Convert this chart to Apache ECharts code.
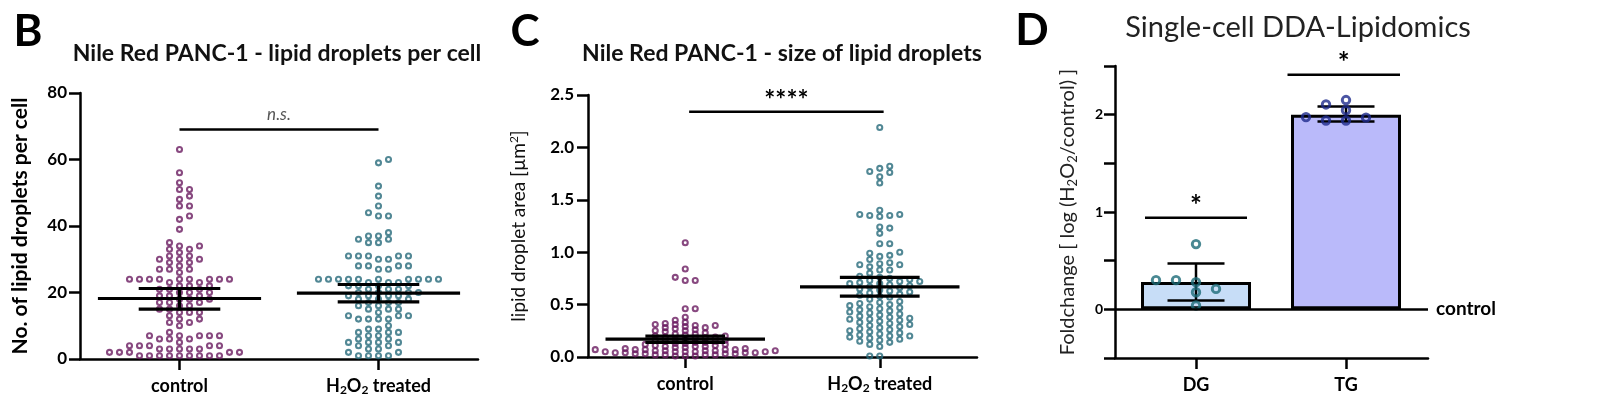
<!DOCTYPE html>
<html>
<head>
<meta charset="utf-8">
<title>Nile Red PANC-1 / Single-cell DDA-Lipidomics</title>
<script src="https://cdn.jsdelivr.net/npm/echarts@6/dist/echarts.min.js"></script>
<style>
  html, body { margin: 0; padding: 0; background: #fff; }
  #main { width: 1601px; height: 399px; }
</style>
</head>
<body>
<div id="main"></div>
<script>
// B - lipid droplets per cell (counts, one value per cell)
var catsB = ['control', 'H2O2 treated'];
var ctrlB = [63, 56, 53, 51, 51, 49, 48, 46, 46, 43, 42, 39,
  35, 34, 33, 32, 31, 30, 29, 34, 33, 31, 30, 30, 29, 28, 27, 26, 27, 27,
  24, 24, 24, 24, 24, 24, 24, 24, 24,
  23, 23, 22, 22, 22, 21, 21, 21, 20, 20, 20, 19, 19, 19, 18, 18, 18, 17, 17, 17,
  16, 16, 15, 15, 14, 14, 14, 13, 12, 12, 11, 11, 10,
  8, 7, 7, 7, 7, 7, 6, 6, 6, 5,
  4, 4, 4, 4, 4, 3, 3, 3, 3, 3, 2, 2, 2, 2, 2, 1, 1, 1, 1, 1, 1, 1, 1, 1];
var h2o2B = [60, 59, 52, 49, 46, 44, 43, 43, 38, 37, 37, 36, 36, 35, 35,
  31, 31, 31, 31, 31, 30, 30, 28, 28, 28, 28, 27, 27,
  24, 24, 24, 24, 24, 24, 24, 24, 24, 24,
  23, 23, 23, 22, 22, 22, 22, 21, 21, 21, 20, 20, 20, 20, 19, 19, 19, 19,
  18, 18, 18, 17, 17, 17, 16, 16, 15, 15, 15, 14,
  13, 13, 13, 12, 12, 12, 12,
  10, 9, 9, 8, 8, 8, 7, 7, 6, 6, 5, 5, 5, 5,
  4, 4, 3, 3, 2, 2, 1, 1, 1, 1];
var meanB = [18.2, 19.8];
var semLoB = [15.0, 17.2];
var semHiB = [21.2, 22.4];

// C - size of lipid droplets (µm²)
var catsC = ['control', 'H2O2 treated'];
var ctrlC = [1.09, 0.84, 0.76, 0.73, 0.73, 0.46, 0.46, 0.38, 0.35,
  0.33, 0.32, 0.31, 0.31, 0.30, 0.30, 0.29, 0.28, 0.28, 0.27, 0.26, 0.25, 0.25,
  0.24, 0.23, 0.22, 0.22, 0.21, 0.20, 0.20, 0.19, 0.19, 0.18, 0.18, 0.17, 0.17, 0.16, 0.16, 0.15, 0.15,
  0.14, 0.14, 0.13, 0.13, 0.12, 0.12, 0.11, 0.11, 0.10, 0.10, 0.10, 0.09, 0.09, 0.08, 0.08,
  0.07, 0.07, 0.07, 0.07, 0.07, 0.06, 0.06, 0.06, 0.06, 0.06, 0.05, 0.05, 0.05, 0.05, 0.05,
  0.04, 0.04, 0.04, 0.04, 0.03, 0.03, 0.03, 0.03, 0.02, 0.02, 0.02, 0.02, 0.01, 0.01, 0.01];
var h2o2C = [2.19, 1.82, 1.80, 1.77, 1.76, 1.72, 1.66, 1.40, 1.36, 1.36, 1.35, 1.35, 1.34,
  1.24, 1.23, 1.18, 1.08, 1.08, 1.00, 0.99, 0.97, 0.96, 0.93, 0.90, 0.89, 0.88, 0.88, 0.86, 0.83, 0.83, 0.80,
  0.77, 0.76, 0.75, 0.74, 0.73, 0.72, 0.72, 0.71, 0.70, 0.70, 0.69, 0.68, 0.67, 0.66, 0.65, 0.64,
  0.63, 0.62, 0.61, 0.60, 0.59, 0.58, 0.57,
  0.55, 0.53, 0.52, 0.51, 0.50, 0.49, 0.48, 0.47, 0.46, 0.45, 0.44, 0.43, 0.42, 0.41, 0.40, 0.39,
  0.38, 0.37, 0.36, 0.36, 0.35, 0.34, 0.33, 0.32, 0.31, 0.30, 0.29, 0.28, 0.27, 0.26, 0.25, 0.24,
  0.23, 0.22, 0.21, 0.20, 0.20, 0.19, 0.18, 0.17, 0.16, 0.15, 0.14, 0.12, 0.10,
  0.01, 0.01];
var meanC = [0.17, 0.67];
var semLoC = [0.14, 0.58];
var semHiC = [0.20, 0.76];

// D - single-cell DDA lipidomics, log fold change vs control
var catsD = ['DG', 'TG'];
var barsD = [0.28, 2.0];
var errLoD = [0.09, 1.93];
var errHiD = [0.47, 2.085];
var dgPoints = [0.67, 0.30, 0.21, 0.30, 0.175, 0.28, 0.04];
var tgPoints = [2.045, 1.94, 1.97, 2.105, 1.94, 2.15, 1.975];

// significance bars: [x from, x to, y] + text
var sigB = [[0, 1, 69]];
var sigTextB = ['n.s.'];
var sigC = [[0.02, 1.02, 2.34]];
var sigTextC = ['****'];
var sigD = [[-0.34, 0.34, 0.94], [0.61, 1.36, 2.41]];
var sigTextD = ['*', '*'];

var FONT = 'Lato, "DejaVu Sans", sans-serif';
var PURPLE = '#6a1c60';
var TEAL = '#276a7a';

var gB = { left: 80, top: 93, width: 398, height: 266 };
var gC = { left: 588, top: 95, width: 389, height: 262 };
var gD = { left: 1115, top: 66, width: 313, height: 292 };

// H2O2 -> rich text with subscripts
function sub(s) {
  return s.replace(/([A-Za-z])(\d)/g, '$1{s|$2}');
}

// beeswarm on a column grid, same idea as a prism scatter dot plot
function swarm(vals, center, pxY, pxX, step, minDy) {
  var order = vals.map(function (v, i) { return i; })
    .sort(function (a, b) { return vals[a] - vals[b]; });
  var cols = {};
  var out = [];
  order.forEach(function (i, n) {
    var y = vals[i] * pxY;
    var side = n % 2 === 0 ? 1 : -1;
    for (var k = 0; k < 400; k++) {
      var c = k === 0 ? 0 : Math.ceil(k / 2) * (k % 2 === 1 ? side : -side);
      if (!cols[c]) cols[c] = [];
      var ok = cols[c].every(function (py) { return Math.abs(py - y) >= minDy; });
      if (ok) {
        cols[c].push(y);
        out.push([center + c * step / pxX, vals[i]]);
        break;
      }
    }
  });
  return out;
}

var pxYB = gB.height / 80, pxXB = gB.width / 2;
var pxYC = gC.height / 2.5, pxXC = gC.width / 2;
var pxYD = gD.height / 3, pxXD = 150;

function line(a, b, w) {
  return { type: 'line', shape: { x1: a[0], y1: a[1], x2: b[0], y2: b[1] },
    style: { stroke: '#000', lineWidth: w } };
}

function meanSemItem(params, api) {
  var x = api.value(0), m = api.value(1), lo = api.value(2), hi = api.value(3);
  return {
    type: 'group',
    children: [
      line(api.coord([x - 0.41, m]), api.coord([x + 0.41, m]), 3.2),
      line(api.coord([x - 0.205, lo]), api.coord([x + 0.205, lo]), 3.2),
      line(api.coord([x - 0.205, hi]), api.coord([x + 0.205, hi]), 3.2),
      line(api.coord([x, lo]), api.coord([x, hi]), 3.2)
    ]
  };
}

function errItem(params, api) {
  var x = api.value(0), lo = api.value(1), hi = api.value(2);
  return {
    type: 'group',
    children: [
      line(api.coord([x, lo]), api.coord([x, hi]), 2.5),
      line(api.coord([x - 0.19, lo]), api.coord([x + 0.19, lo]), 2.5),
      line(api.coord([x - 0.19, hi]), api.coord([x + 0.19, hi]), 2.5)
    ]
  };
}

function sigRenderer(texts, font, gap, color) {
  return function (params, api) {
    var p1 = api.coord([api.value(0), api.value(2)]);
    var p2 = api.coord([api.value(1), api.value(2)]);
    return {
      type: 'group',
      children: [
        line(p1, p2, 2.5),
        {
          type: 'text', x: (p1[0] + p2[0]) / 2, y: p1[1] - gap,
          style: {
            text: texts[params.dataIndex], fill: color, font: font,
            align: 'center', verticalAlign: 'middle'
          }
        }
      ]
    };
  };
}

var axisLineStyle = { color: '#000', width: 2.5 };
var richX = {
  s: { fontSize: 12, fontWeight: 'bold', fontFamily: FONT, color: '#000', lineHeight: 12, verticalAlign: 'bottom' }
};

function xAxisFor(gi, cats, min, max) {
  return {
    gridIndex: gi, type: 'value', min: min, max: max,
    splitLine: { show: false },
    axisLine: { show: true, onZero: false, lineStyle: axisLineStyle },
    axisTick: { show: true, customValues: [0, 1], length: 11, lineStyle: axisLineStyle },
    axisLabel: {
      customValues: [0, 1], margin: 17,
      fontSize: 18, fontWeight: 'bold', fontFamily: FONT, color: '#000', lineHeight: 20,
      formatter: function (v) { return sub(cats[Math.round(v)]); },
      rich: richX
    }
  };
}

function yAxisFor(gi, min, max, interval, labelFmt, name, nameStyle, nameGap, fontSize, margin) {
  return {
    gridIndex: gi, type: 'value', min: min, max: max, interval: interval,
    splitLine: { show: false },
    axisLine: { show: true, onZero: false, lineStyle: axisLineStyle },
    axisTick: { show: true, length: 11, lineStyle: axisLineStyle },
    axisLabel: { fontSize: fontSize, fontWeight: 'bold', fontFamily: FONT, color: '#000',
      margin: margin, formatter: labelFmt },
    name: name, nameLocation: 'middle', nameRotate: 90, nameGap: nameGap,
    nameTextStyle: nameStyle
  };
}

var chart = echarts.init(document.getElementById('main'));

chart.setOption({
  animation: false,
  backgroundColor: '#fff',
  grid: [
    { left: gB.left, top: gB.top, width: gB.width, height: gB.height },
    { left: gC.left, top: gC.top, width: gC.width, height: gC.height },
    { left: gD.left, top: gD.top, width: gD.width, height: gD.height }
  ],
  xAxis: [
    xAxisFor(0, catsB, -0.5, 1.5),
    xAxisFor(1, catsC, -0.5, 1.5),
    xAxisFor(2, catsD, -(gD.width * 0.2588) / pxXD, (gD.width * 0.7412) / pxXD)
  ],
  yAxis: [
    yAxisFor(0, 0, 80, 20, null, 'No. of lipid droplets per cell',
      { fontSize: 21, fontWeight: 'bold', fontFamily: FONT, color: '#000' }, 49, 17, 13),
    yAxisFor(1, 0, 2.5, 0.5, function (v) { return v.toFixed(1); },
      'lipid droplet area [µm{p|2}]',
      { fontSize: 19, fontFamily: FONT, color: '#111', lineHeight: 22,
        rich: { p: { fontSize: 12, fontFamily: FONT, color: '#111', lineHeight: 12, verticalAlign: 'top' } } },
      58, 17, 14),
    yAxisFor(2, -0.5, 2.5, 0.5, function (v) { return Number.isInteger(v) ? String(v) : ''; },
      sub('Foldchange [ log (H2O2/control) ]'),
      { fontSize: 20, fontFamily: FONT, color: '#222', lineHeight: 22,
        rich: { s: { fontSize: 13, fontFamily: FONT, color: '#222', lineHeight: 13, verticalAlign: 'bottom' } } },
      36, 14, 12)
  ],
  graphic: [
    { type: 'text', x: 28, y: 32, style: { text: 'B', font: 'bold 44px ' + FONT, fill: '#000', align: 'center', verticalAlign: 'middle' } },
    { type: 'text', x: 525, y: 32, style: { text: 'C', font: 'bold 44px ' + FONT, fill: '#000', align: 'center', verticalAlign: 'middle' } },
    { type: 'text', x: 1032, y: 31, style: { text: 'D', font: 'bold 44px ' + FONT, fill: '#000', align: 'center', verticalAlign: 'middle' } },
    { type: 'text', x: 277, y: 54, style: { text: 'Nile Red PANC-1 - lipid droplets per cell', font: 'bold 23px ' + FONT, fill: '#111', align: 'center', verticalAlign: 'middle' } },
    { type: 'text', x: 782, y: 54, style: { text: 'Nile Red PANC-1 - size of lipid droplets', font: 'bold 23px ' + FONT, fill: '#111', align: 'center', verticalAlign: 'middle' } },
    { type: 'text', x: 1298, y: 28, style: { text: 'Single-cell DDA-Lipidomics', font: '29px ' + FONT, fill: '#222', align: 'center', verticalAlign: 'middle' } }
  ],
  series: [
    // B
    { type: 'scatter', xAxisIndex: 0, yAxisIndex: 0, z: 2, symbol: 'circle', symbolSize: 5,
      itemStyle: { color: 'rgba(0,0,0,0)', borderColor: PURPLE, borderWidth: 2.1 },
      data: swarm(ctrlB, 0, pxYB, pxXB, 10, 5) },
    { type: 'scatter', xAxisIndex: 0, yAxisIndex: 0, z: 2, symbol: 'circle', symbolSize: 5,
      itemStyle: { color: 'rgba(0,0,0,0)', borderColor: TEAL, borderWidth: 2.1 },
      data: swarm(h2o2B, 1, pxYB, pxXB, 10, 5) },
    { type: 'custom', xAxisIndex: 0, yAxisIndex: 0, z: 3, renderItem: meanSemItem,
      encode: { x: 0, y: [1, 2, 3] },
      data: meanB.map(function (m, i) { return [i, m, semLoB[i], semHiB[i]]; }) },
    { type: 'custom', xAxisIndex: 0, yAxisIndex: 0, z: 3,
      renderItem: sigRenderer(sigTextB, 'italic 17px ' + FONT, 15, '#555'),
      encode: { x: [0, 1], y: 2 }, data: sigB },
    // C
    { type: 'scatter', xAxisIndex: 1, yAxisIndex: 1, z: 2, symbol: 'circle', symbolSize: 5,
      itemStyle: { color: 'rgba(0,0,0,0)', borderColor: PURPLE, borderWidth: 2.1 },
      data: swarm(ctrlC, 0, pxYC, pxXC, 10, 4) },
    { type: 'scatter', xAxisIndex: 1, yAxisIndex: 1, z: 2, symbol: 'circle', symbolSize: 5,
      itemStyle: { color: 'rgba(0,0,0,0)', borderColor: TEAL, borderWidth: 2.1 },
      data: swarm(h2o2C, 1, pxYC, pxXC, 10, 5.5) },
    { type: 'custom', xAxisIndex: 1, yAxisIndex: 1, z: 3, renderItem: meanSemItem,
      encode: { x: 0, y: [1, 2, 3] },
      data: meanC.map(function (m, i) { return [i, m, semLoC[i], semHiC[i]]; }) },
    { type: 'custom', xAxisIndex: 1, yAxisIndex: 1, z: 3,
      renderItem: sigRenderer(sigTextC, 'bold 26px ' + FONT, 11, '#000'),
      encode: { x: [0, 1], y: 2 }, data: sigC },
    // D
    { type: 'bar', xAxisIndex: 2, yAxisIndex: 2, z: 2, barWidth: 110,
      data: barsD.map(function (v, i) {
        return { value: [i, v], itemStyle: { color: i === 0 ? '#c7ddf7' : '#babafa', borderColor: '#000', borderWidth: 3 } };
      }),
      markLine: {
        silent: true, symbol: 'none',
        lineStyle: { color: '#000', width: 2.5, type: 'solid' },
        label: { show: true, position: 'end', formatter: 'control', distance: 8,
          fontSize: 19, fontWeight: 'bold', fontFamily: FONT, color: '#000' },
        data: [{ yAxis: 0 }]
      } },
    { type: 'custom', xAxisIndex: 2, yAxisIndex: 2, z: 3, renderItem: errItem,
      encode: { x: 0, y: [1, 2] },
      data: barsD.map(function (v, i) { return [i, errLoD[i], errHiD[i]]; }) },
    { type: 'scatter', xAxisIndex: 2, yAxisIndex: 2, z: 4, symbol: 'circle', symbolSize: 7.5,
      itemStyle: { color: 'rgba(255,255,255,0)', borderColor: '#1d6b78', borderWidth: 2.9 },
      data: swarm(dgPoints, 0, pxYD, pxXD, 20, 9) },
    { type: 'scatter', xAxisIndex: 2, yAxisIndex: 2, z: 4, symbol: 'circle', symbolSize: 7.5,
      itemStyle: { color: 'rgba(255,255,255,0)', borderColor: '#1e2b8c', borderWidth: 2.9 },
      data: swarm(tgPoints, 1, pxYD, pxXD, 20, 9) },
    { type: 'custom', xAxisIndex: 2, yAxisIndex: 2, z: 3,
      renderItem: sigRenderer(sigTextD, 'bold 28px ' + FONT, 12, '#000'),
      encode: { x: [0, 1], y: 2 }, data: sigD }
  ]
});
</script>
</body>
</html>
